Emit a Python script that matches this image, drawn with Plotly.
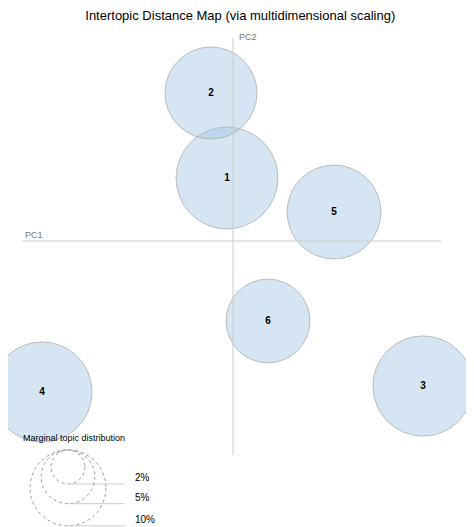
import numpy as np
import plotly.graph_objects as go

topics = ["1", "2", "3", "4", "5", "6"]
pc1 = [-0.006, -0.022, 0.190, -0.191, 0.101, 0.035]
pc2 = [0.063, 0.148, -0.145, -0.151, 0.029, -0.080]
freq = [18.0, 14.7, 17.4, 17.4, 15.3, 12.2]  # marginal topic distribution, %
legend_pct = [2, 5, 10]
legend_labels = ["2%", "5%", "10%"]

px_per_unit = 1000.0
k = 12.0  # radius in px = k*sqrt(pct)
radii_px = k * np.sqrt(freq)

fig = go.Figure()
fig.add_shape(type="line", x0=-0.211, x1=0.208, y0=0, y1=0, line=dict(color="#cccccc", width=1))
fig.add_shape(type="line", x0=0, x1=0, y0=0.203, y1=-0.214, line=dict(color="#cccccc", width=1))
fig.add_trace(go.Scatter(
    x=pc1, y=pc2, mode="markers+text", text=topics, textposition="middle center",
    textfont=dict(family="Arial", size=10, color="black", weight="bold"),
    marker=dict(size=2 * radii_px, color="rgba(160,195,228,0.6)", line=dict(color="#a0a0a0", width=1)),
    hoverinfo="skip", showlegend=False))

# legend of circle sizes
lx, ltop = -0.165, -0.209
for p, lab in zip(legend_pct, legend_labels):
    r = k * np.sqrt(p) / px_per_unit
    fig.add_shape(type="circle", x0=lx - r, x1=lx + r, y0=ltop, y1=ltop - 2 * r,
                  line=dict(color="#999999", width=1, dash="dot"))
    fig.add_shape(type="line", x0=lx, x1=-0.108, y0=ltop - 2 * r, y1=ltop - 2 * r,
                  line=dict(color="#cccccc", width=1))
    fig.add_annotation(x=-0.100, y=ltop - 2 * r + 0.006, text=lab, showarrow=False, xanchor="left",
                       font=dict(family="Arial", size=10, color="black"))
fig.add_annotation(x=-0.212, y=-0.197, text="Marginal topic distribution", showarrow=False, xanchor="left",
                   font=dict(family="Arial", size=9, color="black"))
fig.add_annotation(x=-0.210, y=0.006, text="PC1", showarrow=False, xanchor="left",
                   font=dict(family="Arial", size=9, color="#777777"))
fig.add_annotation(x=0.004, y=0.204, text="PC2", showarrow=False, xanchor="left",
                   font=dict(family="Arial", size=9, color="#777777"))

fig.update_layout(
    width=474, height=527, margin=dict(l=0, r=0, t=0, b=0),
    plot_bgcolor="white", paper_bgcolor="white",
    title=dict(text="Intertopic Distance Map (via multidimensional scaling)", x=0.49, y=0.995,
               font=dict(family="Arial", size=13, color="black")),
    xaxis=dict(range=[-0.225, 0.249], visible=False),
    yaxis=dict(range=[-0.294, 0.233], visible=False),
)
fig.write_html("out.html")
